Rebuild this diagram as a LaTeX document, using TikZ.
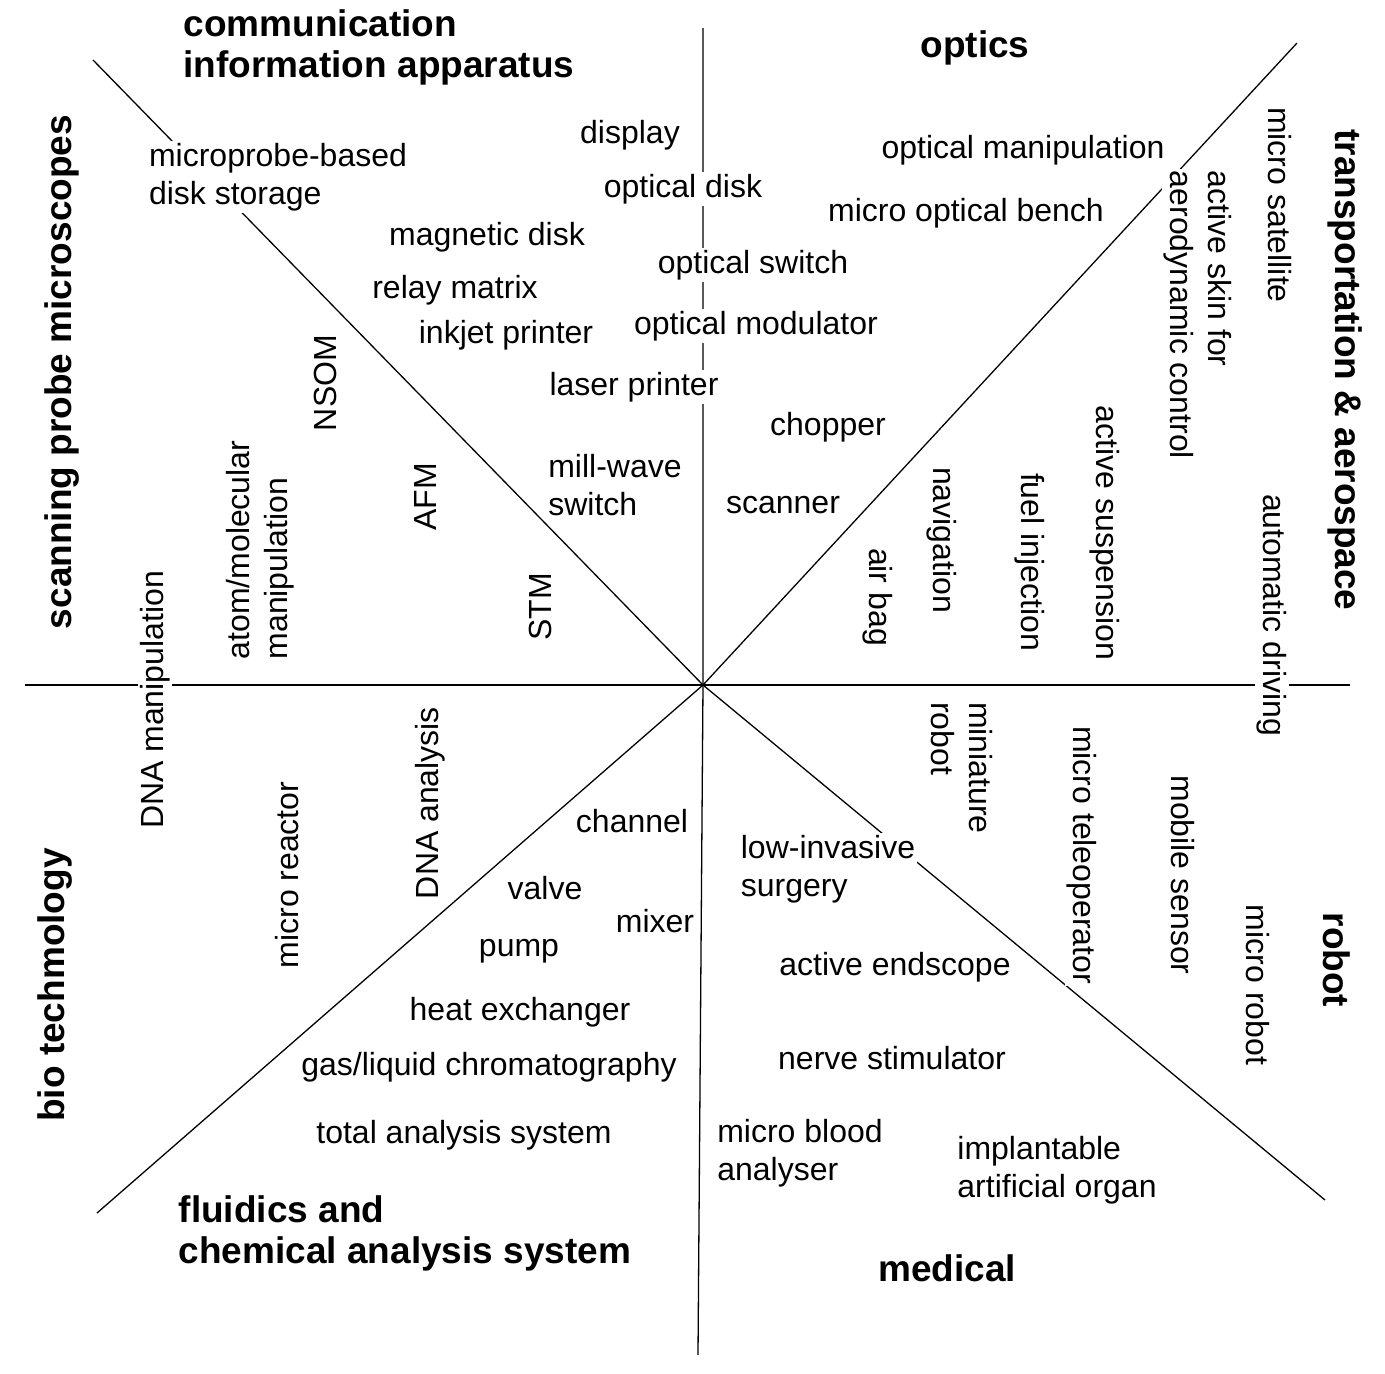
\documentclass[tikz,border=0pt]{standalone}
\usepackage{fontspec}
\setmainfont{Liberation Sans}
\begin{document}
\begin{tikzpicture}[x=1pt,y=-1pt,
  t/.style={fill=white,inner sep=2pt,font=\fontsize{32}{38}\selectfont,align=left},
  h/.style={inner sep=1pt,font=\fontsize{37}{41}\selectfont\bfseries,align=left},
  ln/.style={line width=1.3pt}]
\useasboundingbox (0,0) rectangle (1385,1374);
\coordinate (c) at (703,685);
\coordinate (n) at (703,28); \coordinate (s) at (698,1355);
\coordinate (w) at (25,685); \coordinate (e) at (1350,685);
\coordinate (nw) at (93,60); \coordinate (ne) at (1297,43);
\coordinate (sw) at (97,1213); \coordinate (se) at (1325,1200);
\draw[ln] (n) -- (c) -- (s);
\draw[ln] (w) -- (e);
\draw[ln] (nw) -- (c) -- (se);
\draw[ln] (ne) -- (c) -- (sw);
% headers
\node[h] (h1) at (379,47) {communication\\information apparatus};
\node[h] (h2) at (975,48) {optics};
\node[h,rotate=-90] (h3) at (1345,370) {transportation \& aerospace};
\node[h,rotate=90] (h4) at (62,372) {scanning probe microscopes};
\node[h,rotate=90] (h5) at (55,985) {bio techmology};
\node[h,rotate=-90] (h6) at (1337,960) {robot};
\node[h] (h7) at (947,1268) {medical};
\node[h] (h8) at (405,1233) {fluidics and\\chemical analysis system};
% texts
\node[t] (a1) at (278,177) {microprobe-based\\disk storage};
\node[t] (a2) at (630,135) {display};
\node[t] (a3) at (683,189) {optical disk};
\node[t] (a4) at (487,237) {magnetic disk};
\node[t] (a5) at (753,265) {optical switch};
\node[t] (a6) at (455,290) {relay matrix};
\node[t] (a7) at (506,335) {inkjet printer};
\node[t] (a8) at (756,326) {optical modulator};
\node[t] (a9) at (634,387) {laser printer};
\node[t] (a10) at (1023,150) {optical manipulation};
\node[t] (a11) at (966,213) {micro optical bench};
\node[t] (a12) at (828,427) {chopper};
\node[t] (a13) at (615,485) {mill-wave\\switch};
\node[t] (a14) at (783,505) {scanner};
\node[t,rotate=90] (a15) at (325,383) {NSOM};
\node[t,rotate=90] (a16) at (425,497) {AFM};
\node[t,rotate=90] (a17) at (540,607) {STM};
\node[t,rotate=90] (a18) at (260,550) {atom/molecular\\manipulation};
\node[t,rotate=90] (a19) at (155,700) {DNA manipulation};
\node[t,rotate=-90] (a20) at (1280,205) {micro satellite};
\node[t,rotate=-90] (a21) at (1198,315) {active skin for\\aerodynamic control};
\node[t,rotate=-90] (a22) at (1105,533) {active suspension};
\node[t,rotate=-90] (a23) at (1030,562) {fuel injection};
\node[t,rotate=-90] (a24) at (942,540) {navigation};
\node[t,rotate=-90] (a25) at (878,597) {air bag};
\node[t,rotate=-90] (a26) at (1272,615) {automatic driving};
\node[t,rotate=-90] (a27) at (962,768) {miniature\\robot};
\node[t,rotate=-90] (a28) at (1082,855) {micro teleoperator};
\node[t,rotate=-90] (a29) at (1183,875) {mobile sensor};
\node[t,rotate=-90] (a30) at (1258,985) {micro robot};
\node[t,rotate=90] (a31) at (287,875) {micro reactor};
\node[t,rotate=90] (a32) at (430,803) {DNA analysis};
\node[t] (a33) at (632,821) {channel};
\node[t] (a34) at (828,869) {low-invasive\\surgery};
\node[t] (a35) at (545,888) {valve};
\node[t] (a36) at (655,921) {mixer};
\node[t] (a37) at (519,951) {pump};
\node[t] (a38) at (895,967) {active endscope};
\node[t] (a39) at (520,1012) {heat exchanger};
\node[t] (a40) at (489,1067) {gas/liquid chromatography};
\node[t] (a41) at (892,1058) {nerve stimulator};
\node[t] (a42) at (464,1135) {total analysis system};
\node[t] (a43) at (800,1153) {micro blood\\analyser};
\node[t] (a44) at (1057,1170) {implantable\\artificial organ};
\end{tikzpicture}
\end{document}
